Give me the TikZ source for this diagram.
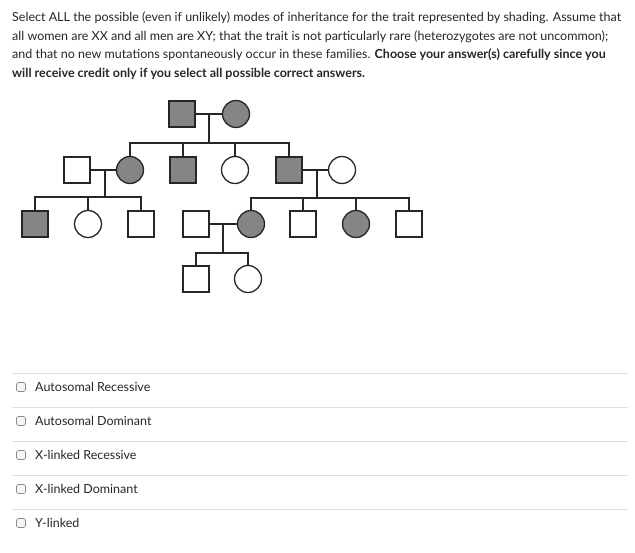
\documentclass[tikz,border=0pt]{standalone}
\usepackage{fontspec}
\setmainfont{Lato}
\begin{document}
\begin{tikzpicture}[x=1pt,y=-1pt,
  m/.style={draw=black!85,line width=1.3pt,minimum size=26pt,inner sep=0pt,rectangle},
  f/.style={draw=black!85,line width=1.3pt,minimum size=27pt,inner sep=0pt,circle},
  aff/.style={fill=black!48},
  ln/.style={draw=black!85,line width=1.3pt},
  sep/.style={draw=black!13,line width=0.8pt},
  cb/.style={draw=black!45,fill=black!4,rounded corners=1.5pt,minimum size=9pt,inner sep=0pt,line width=0.6pt},
  opt/.style={anchor=west,font=\fontsize{12.5}{14}\selectfont,text=black!85,inner sep=0pt}]
\useasboundingbox (0,0) rectangle (635,553);
\node[anchor=north west,inner sep=0pt,align=left,font=\fontsize{12.5}{18.5}\selectfont,text=black!85] (q) at (12,12)
{Select ALL the possible (even if unlikely) modes of inheritance for the trait represented by shading. Assume that\\
all women are XX and all men are XY; that the trait is not particularly rare (heterozygotes are not uncommon);\\
and that no new mutations spontaneously occur in these families. \textbf{Choose your answer(s) carefully since you}\\
\textbf{will receive credit only if you select all possible correct answers.}};
% gen1
\node[m,aff] (g1m) at (182,114) {};
\node[f,aff] (g1f) at (236,114) {};
% gen2
\node[m] (a) at (77,170) {};
\node[f,aff] (b) at (130,170) {};
\node[m,aff] (c) at (183,170) {};
\node[f] (d) at (235,170) {};
\node[m,aff] (e) at (289,170) {};
\node[f] (g) at (342,170) {};
% gen3
\node[m,aff] (h) at (35,224) {};
\node[f] (i) at (88,224) {};
\node[m] (j) at (141,224) {};
\node[m] (k) at (196,224) {};
\node[f,aff] (l) at (251,224) {};
\node[m] (n) at (303,224) {};
\node[f,aff] (o) at (356,224) {};
\node[m] (p) at (409,224) {};
% gen4
\node[m] (r) at (196,279) {};
\node[f] (s) at (248,279) {};
\coordinate (c1) at (209,114);
\coordinate (s1) at (209,143);
\coordinate (c2) at (105,170);
\coordinate (s2) at (105,197);
\coordinate (c3) at (317,170);
\coordinate (s3) at (317,198);
\coordinate (c4) at (223,224);
\coordinate (s4) at (223,253);
\draw[ln] (g1m) -- (g1f);
\draw[ln] (c1) -- (s1);
\draw[ln] (b.north) |- (s1) -| (e.north);
\draw[ln] (c) -- (c|-s1);
\draw[ln] (d) -- (d|-s1);
\draw[ln] (a) -- (b);
\draw[ln] (c2) -- (s2);
\draw[ln] (h.north) |- (s2) -| (j.north);
\draw[ln] (i) -- (i|-s2);
\draw[ln] (e) -- (g);
\draw[ln] (c3) -- (s3);
\draw[ln] (l.north) |- (s3) -| (p.north);
\draw[ln] (n) -- (n|-s3);
\draw[ln] (o) -- (o|-s3);
\draw[ln] (k) -- (l);
\draw[ln] (c4) -- (s4);
\draw[ln] (r.north) |- (s4) -| (s.north);
% options
\foreach \y in {373,407,441,475,509} \draw[sep] (12,\y) -- (628,\y);
\node[cb] (k1) at (21,387) {}; \node[opt] (t1) at (35,387) {Autosomal Recessive};
\node[cb] (k2) at (21,421) {}; \node[opt] (t2) at (35,421) {Autosomal Dominant};
\node[cb] (k3) at (21,455) {}; \node[opt] (t3) at (35,455) {X-linked Recessive};
\node[cb] (k4) at (21,489) {}; \node[opt] (t4) at (35,489) {X-linked Dominant};
\node[cb] (k5) at (21,523) {}; \node[opt] (t5) at (35,523) {Y-linked};
\end{tikzpicture}
\end{document}
